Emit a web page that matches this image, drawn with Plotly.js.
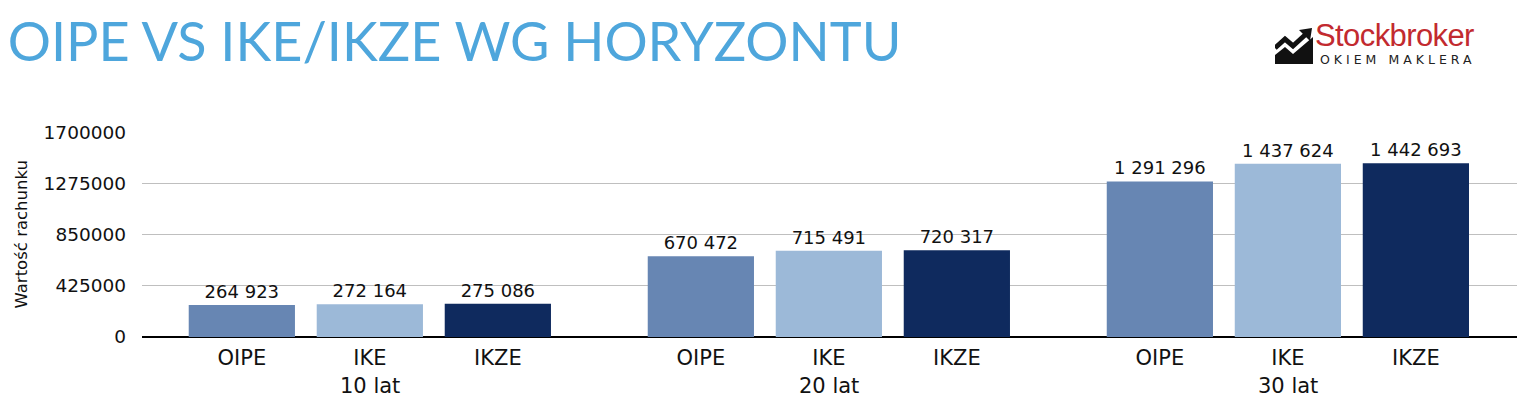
<!DOCTYPE html>
<html>
<head>
<meta charset="utf-8">
<script src="https://cdn.plot.ly/plotly-3.0.1.min.js"></script>
<style>
  body { margin: 0; background: #fff; }
  #wrap { position: relative; width: 1536px; height: 409px; }
  #chart { width: 1536px; height: 409px; }
  #logo { position: absolute; left: 1275px; top: 22px; }
  #logo svg { position: absolute; left: 0; top: 6px; }
  #logo .nazwa { position: absolute; left: 40px; top: -4px; font-family: "Liberation Sans", Arial, sans-serif;
                 font-size: 31px; color: #c22a2f; letter-spacing: -0.6px; white-space: nowrap; }
  #logo .pod { position: absolute; left: 45px; top: 30px; font-family: "DejaVu Sans", sans-serif;
               font-size: 12.5px; color: #222; letter-spacing: 4.0px; white-space: nowrap; }
</style>
</head>
<body>
<div id="wrap">
  <div id="chart"></div>
  <div id="logo">
    <svg width="38" height="36" viewBox="0 0 38 36">
      <polygon points="0,36 0,27 10,19 18,26 38,9 38,36" fill="#111"/>
      <polyline points="0,20 10,11 18,18 30,7" fill="none" stroke="#111" stroke-width="5"/>
      <polygon points="24,2 37,0 35,13" fill="#111"/>
    </svg>
    <div class="nazwa">Stockbroker</div>
    <div class="pod">OKIEM MAKLERA</div>
  </div>
</div>
<script>
"use strict";

// Dane wykresu
const horyzonty = ["10 lat", "20 lat", "30 lat"];
const produkty = ["OIPE", "IKE", "IKZE"];
const wartosciOIPE = [264923, 670472, 1291296];
const wartosciIKE = [272164, 715491, 1437624];
const wartosciIKZE = [275086, 720317, 1442693];
const kolory = ["#6786b3", "#9cb9d8", "#0f2a5e"];
const yTicki = [0, 425000, 850000, 1275000, 1700000];

const wartosci = [wartosciOIPE, wartosciIKE, wartosciIKZE];
const krokGrupy = 3.586; // odstęp między grupami (w jednostkach osi)
const czcionka = "DejaVu Sans, sans-serif";

// Format "1 291 296"
function formatuj(v) {
    return String(v).replace(/\B(?=(\d{3})+(?!\d))/g, " ");
}

const pozycja = (g, p) => g * krokGrupy + p;

const slady = produkty.map((nazwa, p) => ({
    type: "bar",
    name: nazwa,
    x: horyzonty.map((h, g) => pozycja(g, p)),
    y: wartosci[p],
    width: 0.83,
    marker: { color: kolory[p] },
    text: wartosci[p].map(formatuj),
    textposition: "outside",
    textfont: { family: czcionka, size: 18, color: "#111" },
    cliponaxis: false,
    hoverinfo: "skip"
}));

const tickPozycje = [];
const tickTeksty = [];
horyzonty.forEach((h, g) => produkty.forEach((nazwa, p) => {
    tickPozycje.push(pozycja(g, p));
    tickTeksty.push(nazwa);
}));

// Etykiety horyzontu pod środkowym słupkiem grupy
const etykietyGrup = horyzonty.map((h, g) => ({
    text: h,
    xref: "x", yref: "paper",
    x: pozycja(g, 1), y: 0,
    yanchor: "top", yshift: -35,
    showarrow: false,
    font: { family: czcionka, size: 21, color: "#111" }
}));

const layout = {
    width: 1536,
    height: 409,
    margin: { l: 142, r: 19, t: 132, b: 72 },
    paper_bgcolor: "#ffffff",
    plot_bgcolor: "#ffffff",
    showlegend: false,
    barmode: "overlay",
    title: {
        text: "OIPE VS IKE/IKZE WG HORYZONTU",
        x: 0.005, xanchor: "left",
        y: 0.896, yanchor: "middle",
        font: { family: "Lato, sans-serif", size: 54, color: "#4ea6dc" }
    },
    xaxis: {
        range: [-0.78, pozycja(2, 2) + 0.79],
        tickvals: tickPozycje,
        ticktext: tickTeksty,
        tickfont: { family: czcionka, size: 21, color: "#111" },
        showgrid: false,
        zeroline: false,
        showline: false,
        ticks: "",
        ticklabelstandoff: 6
    },
    yaxis: {
        range: [0, 1702000],
        tickvals: yTicki,
        ticktext: yTicki.map(String),
        tickfont: { family: czcionka, size: 18.5, color: "#111" },
        showgrid: true,
        gridcolor: "#bfbfbf",
        gridwidth: 1,
        zeroline: true,
        zerolinecolor: "#000000",
        zerolinewidth: 2,
        ticks: "",
        ticklabelstandoff: 15
    },
    annotations: [
        {
            text: "Wartość rachunku",
            xref: "paper", yref: "paper",
            x: 0, y: 0.5,
            xanchor: "center", yanchor: "middle",
            xshift: -121,
            textangle: -90,
            showarrow: false,
            font: { family: czcionka, size: 16.5, color: "#111" }
        }
    ].concat(etykietyGrup)
};

const config = { displayModeBar: false, staticPlot: true };

Plotly.newPlot("chart", slady, layout, config);
</script>
</body>
</html>
